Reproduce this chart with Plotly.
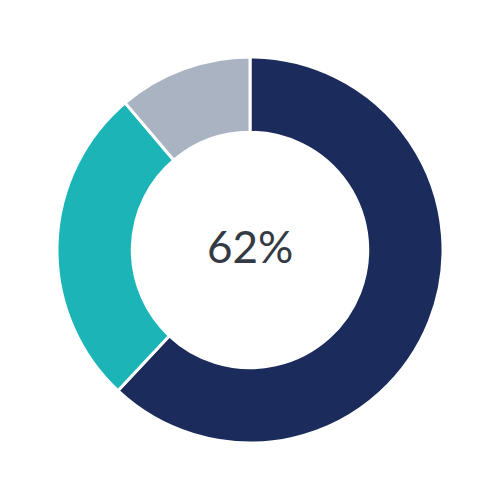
import plotly.graph_objects as go

# donut segments, clockwise from 12 o'clock
labels = ["Primary", "Secondary", "Other"]
values = [62, 26.8, 11.2]
colors = ["#1b2b5b", "#1bb4b7", "#a9b3c1"]
center_text = "62%"

fig = go.Figure(
    go.Pie(
        labels=labels,
        values=values,
        hole=0.61,
        sort=False,
        direction="clockwise",
        rotation=0,
        marker=dict(colors=colors, line=dict(color="white", width=3)),
        textinfo="none",
        hoverinfo="label+percent",
    )
)

# page body has an 8px margin, so shift the plot area up/left to centre at 250
fig.update_layout(
    width=500,
    height=500,
    showlegend=False,
    paper_bgcolor="white",
    margin=dict(l=49, r=65, t=49, b=65),
    annotations=[
        dict(
            text=center_text,
            x=0.5, y=0.51, xref="paper", yref="paper",
            showarrow=False,
            font=dict(family="Lato", size=44, color="#333a44"),
        )
    ],
)

fig.write_html("out.html")
